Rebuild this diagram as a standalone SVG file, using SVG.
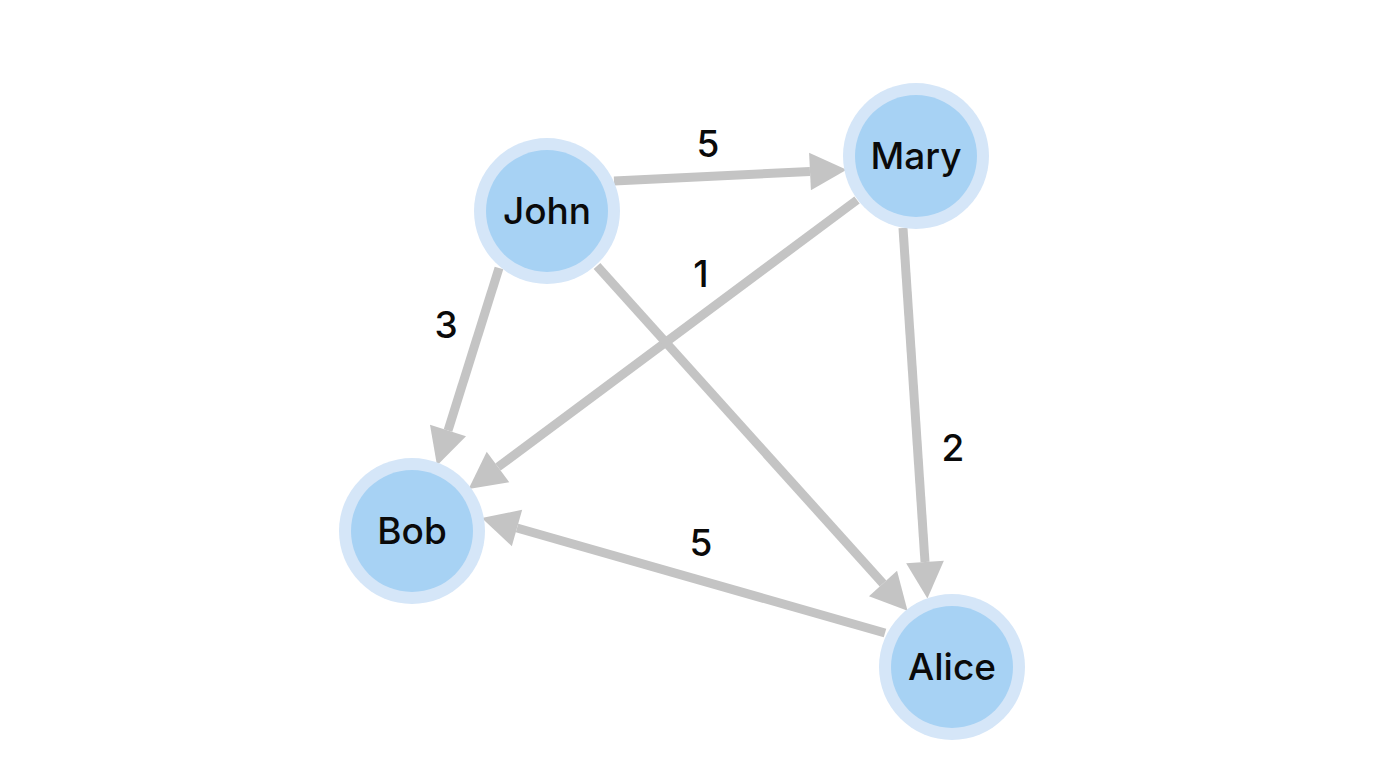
<svg xmlns="http://www.w3.org/2000/svg" width="1400" height="776" viewBox="0 0 1400 776">
<style>
.edge{stroke:#c4c4c4;stroke-width:9;fill:none}
.outer{fill:#d5e6f8}
.inner{fill:#a7d2f4}
.lbl{font-family:Inter,"Open Sans",sans-serif;font-weight:500;font-size:37px;fill:#0a0a0a;text-anchor:middle}
.w{font-family:Inter,"Open Sans",sans-serif;font-weight:500;font-size:37px;fill:#0a0a0a;text-anchor:middle}
</style>
<defs>
<marker id="arr" markerUnits="userSpaceOnUse" markerWidth="40" markerHeight="40" viewBox="0 -18 34 36" refX="0" refY="0" orient="auto">
<path d="M0,-17 L33,0 L0,17 z" fill="#c4c4c4"/>
</marker>
</defs>
<rect width="1400" height="776" fill="#fff"/>
<g id="connectors">
<line class="edge" x1="614" y1="181" x2="810" y2="171.5" marker-end="url(#arr)"/>
<line class="edge" x1="857" y1="200" x2="498" y2="467" marker-end="url(#arr)"/>
<line class="edge" x1="499" y1="268" x2="448" y2="430.5" marker-end="url(#arr)"/>
<line class="edge" x1="597" y1="266" x2="883" y2="583.5" marker-end="url(#arr)"/>
<line class="edge" x1="903" y1="228" x2="925" y2="562" marker-end="url(#arr)"/>
<line class="edge" x1="885" y1="633" x2="517" y2="528" marker-end="url(#arr)"/>
<text class="w" x="708" y="157">5</text>
<text class="w" x="701" y="287">1</text>
<text class="w" x="446" y="338">3</text>
<text class="w" x="953" y="461">2</text>
<text class="w" x="701" y="556">5</text>
</g>
<g id="john"><circle class="outer" cx="547" cy="211" r="73"/><circle class="inner" cx="547" cy="211" r="61"/><text class="lbl" x="547" y="224">John</text></g>
<g id="mary"><circle class="outer" cx="916" cy="156" r="73"/><circle class="inner" cx="916" cy="156" r="61"/><text class="lbl" x="916" y="169">Mary</text></g>
<g id="bob"><circle class="outer" cx="412" cy="531" r="73"/><circle class="inner" cx="412" cy="531" r="61"/><text class="lbl" x="412" y="544">Bob</text></g>
<g id="alice"><circle class="outer" cx="952" cy="667" r="73"/><circle class="inner" cx="952" cy="667" r="61"/><text class="lbl" x="952" y="680">Alice</text></g>
</svg>
